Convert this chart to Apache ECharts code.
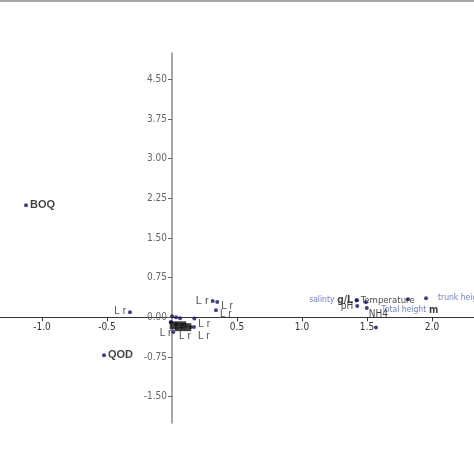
<!DOCTYPE html>
<html><head><meta charset="utf-8">
<script src="https://cdn.jsdelivr.net/npm/echarts@6/dist/echarts.min.js"></script>
<style>html,body{margin:0;padding:0;background:#fff}#c{width:474px;height:474px}</style>
</head><body><div id="c"></div>
<script>
// ---- data ----
var pointNames = ["BOQ","QOD","L r","L r","L r","L r","L r","L r","L r","L r",
  "","","","","","","",
  "salinty g/L","Temperature","Total height m","trunk height","pH","","NH4",""];
var xValues = [-1.123,-0.523,-0.323,0.313,0.348,0.338,0.172,0.144,0.169,0.010,
  0.000,0.031,0.062,-0.008,0.031,0.077,0.108,
  1.421,1.421,1.815,1.954,1.425,1.492,1.498,1.569];
var yValues = [2.12,-0.72,0.095,0.309,0.290,0.133,-0.025,-0.184,-0.184,-0.278,
  0.02,0.0,-0.02,-0.095,-0.13,-0.15,-0.17,
  0.322,0.322,0.341,0.360,0.214,0.284,0.176,-0.195];
var yTicks = [-1.5,-0.75,0,0.75,1.5,2.25,3,3.75,4.5];
var xTicks = [-1.0,-0.5,0.5,1.0,1.5,2.0];

// ---- label styling per point (style only) ----
var BLUE = '#4a5cc0';
var labelStyle = {
  0:{position:'right',fontWeight:'bold',fontSize:11,color:'#111'},
  1:{position:'right',fontWeight:'bold',fontSize:11,color:'#111'},
  2:{position:'left',color:'#222',shift:[0,-1]},
  3:{position:'left',color:'#222',fontSize:11},
  4:{position:'right',color:'#222',shift:[0,4]},
  5:{position:'right',color:'#222',shift:[0,4]},
  6:{position:'right',color:'#222',shift:[0,6]},
  7:{position:'left',color:'#222',shift:[4,9]},
  8:{position:'right',color:'#222',shift:[0,9]},
  9:{position:'left',color:'#222',shift:[2,1]},
  17:{position:'left',rich:true},
  18:{position:'right',color:'#111',fontSize:9.5,fontFamily:'DejaVu Sans Condensed'},
  19:{position:'bottom',rich:true,shift:[2,2]},
  20:{position:'right',color:BLUE,fontFamily:'DejaVu Sans Condensed',fontSize:8.5,shift:[8,0]},
  21:{position:'left',color:'#111',fontSize:10,fontFamily:'DejaVu Sans Condensed'},
  23:{position:'right',color:'#111',fontSize:10,fontFamily:'DejaVu Sans Condensed',shift:[-2,6]}
};

var data = [];
for (var i=0;i<xValues.length;i++){
  var ls = labelStyle[i] || {};
  var lab = {show: pointNames[i] !== '', position: ls.position||'right', distance:2,
    formatter:'{b}',
    fontSize: ls.fontSize||10, color: ls.color||'#111', fontWeight: ls.fontWeight||'normal',
    fontFamily: ls.fontFamily||'Liberation Sans'};
  if (ls.rich) {
    if (i===17) lab.formatter = '{b|salinty} {k|g/L}';
    if (i===19) lab.formatter = '{b|Total height} {k|m}';
    lab.rich = {b:{color:BLUE,fontFamily:'DejaVu Sans Condensed',fontSize:8.5},
                k:{color:'#111',fontFamily:'DejaVu Sans Condensed',fontSize:10,fontWeight:'bold'}};
  }
  data.push({name: pointNames[i], value:[xValues[i], yValues[i]], label: lab});
}
var blob = [13,14];

var chart = echarts.init(document.getElementById('c'), null, {renderer:'canvas'});
chart.setOption({
  animation:false,
  backgroundColor:'#fff',
  graphic:[{type:'rect',shape:{x:0,y:0,width:474,height:2},style:{fill:'#a6a6a6'}}],
  grid:{left:0,right:0,top:53,bottom:51,outerBoundsMode:'none',containLabel:false},
  xAxis:{type:'value',min:-172/130,max:302/130,position:'bottom',offset:-(370*2/7),
    axisLine:{onZero:false,lineStyle:{color:'#333',width:1}},
    axisTick:{show:true,length:4,customValues:xTicks,lineStyle:{color:'#333'}},
    axisLabel:{customValues:xTicks,margin:5,fontSize:10,color:'#333',fontFamily:'DejaVu Sans Condensed',
      formatter:function(v){return v.toFixed(1);}},
    splitLine:{show:false}},
  yAxis:{type:'value',min:-2,max:5,position:'left',offset:-172,
    axisLine:{onZero:false,lineStyle:{color:'#8a8a8a',width:1.5}},
    axisTick:{show:true,length:4,customValues:yTicks,lineStyle:{color:'#666'}},
    axisLabel:{customValues:yTicks,margin:5,fontSize:10,color:'#666',fontFamily:'DejaVu Sans Condensed',
      formatter:function(v){return v.toFixed(2);}},
    splitLine:{show:false}},
  series:[{type:'scatter',symbolSize:4,itemStyle:{color:'#12126c'},data:data,
    labelLayout:function(p){
      var ls = labelStyle[p.dataIndex];
      if (ls && ls.shift) return {dx:ls.shift[0],dy:ls.shift[1],hideOverlap:false};
      return {hideOverlap:false};
    }},
    {type:'scatter',symbolSize:4,itemStyle:{color:'#12126c'},
     data:blob.map(function(k){return [xValues[k],yValues[k]];}),
     label:{show:true,position:'inside',formatter:'Est',fontSize:8,fontWeight:'bold',
       color:'#444',backgroundColor:'#111',padding:[0,2]},
     labelLayout:{dx:7,dy:3}}]
});
</script></body></html>
